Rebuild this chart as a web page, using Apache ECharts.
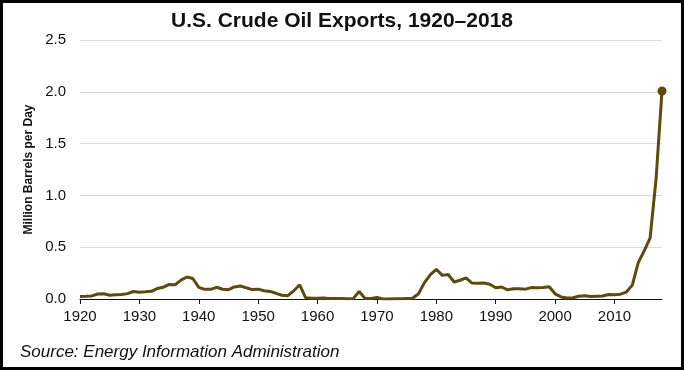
<!DOCTYPE html>
<html>
<head>
<meta charset="utf-8">
<script src="https://cdn.jsdelivr.net/npm/echarts@6/dist/echarts.min.js"></script>
<style>
html,body{margin:0;padding:0;background:#fff;}
#c{width:684px;height:370px;}
</style>
</head>
<body>
<div id="c"></div>
<script>
const years = [1920,1921,1922,1923,1924,1925,1926,1927,1928,1929,
1930,1931,1932,1933,1934,1935,1936,1937,1938,1939,
1940,1941,1942,1943,1944,1945,1946,1947,1948,1949,
1950,1951,1952,1953,1954,1955,1956,1957,1958,1959,
1960,1961,1962,1963,1964,1965,1966,1967,1968,1969,
1970,1971,1972,1973,1974,1975,1976,1977,1978,1979,
1980,1981,1982,1983,1984,1985,1986,1987,1988,1989,
1990,1991,1992,1993,1994,1995,1996,1997,1998,1999,
2000,2001,2002,2003,2004,2005,2006,2007,2008,2009,
2010,2011,2012,2013,2014,2015,2016,2017,2018];
const exportsMbd = [0.024,0.026,0.030,0.048,0.050,0.037,0.041,0.043,0.052,0.072,
0.065,0.069,0.074,0.101,0.113,0.141,0.137,0.182,0.212,0.198,
0.113,0.093,0.093,0.113,0.094,0.090,0.116,0.126,0.108,0.091,
0.095,0.079,0.073,0.055,0.036,0.032,0.079,0.137,0.011,0.007,
0.008,0.009,0.005,0.005,0.004,0.003,0.004,0.073,0.005,0.004,
0.014,0.001,0.001,0.002,0.003,0.006,0.008,0.050,0.158,0.235,
0.287,0.228,0.236,0.164,0.181,0.204,0.154,0.151,0.155,0.142,
0.109,0.116,0.089,0.098,0.099,0.095,0.110,0.108,0.110,0.118,
0.050,0.020,0.009,0.012,0.027,0.032,0.025,0.027,0.029,0.044,
0.042,0.047,0.067,0.134,0.351,0.465,0.591,1.158,2.008];
const xTicks = [1920,1930,1940,1950,1960,1970,1980,1990,2000,2010];
const yTicks = [0,0.5,1.0,1.5,2.0,2.5];

const FONT = "'Liberation Sans',Arial,sans-serif";
const lineColor = '#5e4a0b';
const data = years.map((y,i)=>[y, exportsMbd[i]]);
const last = data.length - 1;

const chart = echarts.init(document.getElementById('c'));
chart.setOption({
  animation:false,
  backgroundColor:'#fff',
  title:{
    text:'U.S. Crude Oil Exports, 1920\u20132018',
    left:'center', top:6,
    textStyle:{fontFamily:FONT,fontWeight:'bold',fontSize:21,color:'#111'}
  },
  grid:{left:80,right:22,top:40,bottom:71},
  xAxis:{
    type:'value', min:1920, max:2018, interval:10,
    axisLine:{show:true,onZero:false,lineStyle:{color:'#111',width:1}},
    axisTick:{show:true,length:5,inside:false,customValues:xTicks,lineStyle:{color:'#111'}},
    axisLabel:{customValues:xTicks,fontFamily:FONT,fontSize:15,color:'#111',margin:10,formatter:v=>String(v)},
    splitLine:{show:false}
  },
  yAxis:{
    type:'value', min:0, max:2.5, interval:0.5,
    name:'Million Barrels per Day', nameLocation:'middle', nameGap:44, nameRotate:90,
    nameTextStyle:{fontFamily:FONT,fontWeight:'bold',fontSize:12,color:'#111'},
    axisLine:{show:false}, axisTick:{show:false},
    axisLabel:{fontFamily:FONT,fontSize:15,color:'#111',margin:14,formatter:v=>v.toFixed(1)},
    splitLine:{show:true,lineStyle:{color:'#d9d9d9',width:1}}
  },
  series:[{
    type:'line', data:data,
    showSymbol:true, showAllSymbol:true, symbol:'circle',
    symbolSize:(v,p)=> p.dataIndex===last ? 9 : 0,
    itemStyle:{color:lineColor},
    lineStyle:{color:lineColor,width:3},
    z:5
  }],
  graphic:[
    {type:'text',left:20,top:344,style:{text:'Source: Energy Information Administration',font:"italic 17px "+FONT,fill:'#111'}},
    {type:'rect',shape:{x:1.5,y:1.5,width:681,height:367},style:{fill:null,stroke:'#000',lineWidth:3},silent:true,z:100}
  ]
});
</script>
</body>
</html>
